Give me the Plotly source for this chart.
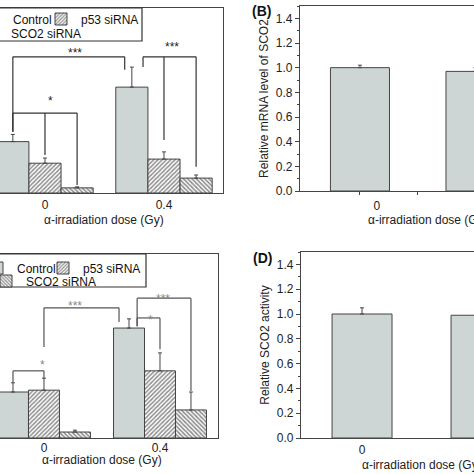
import plotly.graph_objects as go

W = H = 474
FONT = "Liberation Sans, Arial, sans-serif"

# ---------------- data ----------------
dose_labels = ["0", "0.4"]
series_names = ["Control", "p53 siRNA", "SCO2 siRNA"]

# Panel A
a_control = [1.00, 2.06]
a_p53 = [0.58, 0.66]
a_sco2 = [0.10, 0.29]
a_control_err = [0.14, 0.39]
a_p53_err = [0.10, 0.14]
a_sco2_err = [0.02, 0.06]

# Panel B
b_values = [1.00, 0.97]
b_err = [0.02, 0.03]

# Panel C
c_control = [1.00, 2.39]
c_p53 = [1.04, 1.46]
c_sco2 = [0.13, 0.61]
c_control_err = [0.20, 0.20]
c_p53_err = [0.26, 0.39]
c_sco2_err = [0.04, 0.39]

# Panel D
d_values = [1.00, 0.99]
d_err = [0.05, 0.04]

y_tick_vals = [0.0, 0.2, 0.4, 0.6, 0.8, 1.0, 1.2, 1.4]

# significance brackets: label, label position, bracket height, legs (group, series, dx, bottom)
a_brackets = [
    ("***", 0.252, 2.78, 2.65, [(0, 0, 0.0, 1.19), (1, 0, -0.06, 2.40)]),
    ("*", 0.05, 1.85, 1.556, [(0, 0, 0.0, 1.19), (0, 1, 0.0, 0.74), (0, 2, 0.0, 0.156)]),
    ("***", 1.067, 2.90, 2.65, [(1, 0, 0.094, 2.45), (1, 1, 0.0, 1.03), (1, 2, 0.0, 0.51)]),
]
c_brackets = [
    ("***", 0.267, 2.93, 2.83, [(0, 1, 0.0, 1.98), (1, 0, -0.086, 2.52)]),
    ("*", -0.017, 1.65, 1.46, [(0, 0, 0.0, 1.20), (0, 1, 0.0, 1.30)]),
    ("*", 0.914, 2.63, 2.61, [(1, 0, 0.07, 2.43), (1, 1, 0.0, 1.93)]),
    ("***", 1.026, 3.09, 3.04, [(1, 0, 0.07, 2.43), (1, 2, 0.0, 1.02)]),
]

# ---------------- styling ----------------
BAR_FILL = "#cdd6d5"
EDGE = "#444444"
AX = "#444444"


def pxx(x):
    return x / W


def pxy(y):
    return 1 - y / H


patterns = [None, dict(shape="/", fgcolor="#1e1e1e", bgcolor="white", size=3, solidity=0.5),
            dict(shape="\\", fgcolor="#1e1e1e", bgcolor="white", size=3, solidity=0.55)]

fig = go.Figure()


def grouped(xa, ya, series, errs, w, legends):
    for i, (name, vals, err) in enumerate(zip(series_names, series, errs)):
        marker = dict(color=BAR_FILL if i == 0 else "white", line=dict(color=EDGE, width=1))
        if patterns[i]:
            marker["pattern"] = patterns[i]
        fig.add_trace(go.Bar(
            x=[0, 1], y=vals, width=w, offset=(i - 1.5) * w, name=name,
            xaxis=xa, yaxis=ya, marker=marker, legend=legends[i], showlegend=True,
            error_y=dict(type="data", symmetric=False, array=err, arrayminus=[0, 0],
                         color=EDGE, thickness=1, width=2),
        ))


def brackets(xa, ya, specs, w, color, tcolor):
    for label, lx, ly, yb, legs in specs:
        xs = [g + (s - 1) * w + dx for g, s, dx, _ in legs]
        fig.add_shape(type="line", xref=xa, yref=ya, x0=min(xs), x1=max(xs), y0=yb, y1=yb,
                      line=dict(color=color, width=1.2))
        for x, (_, _, _, bottom) in zip(xs, legs):
            fig.add_shape(type="line", xref=xa, yref=ya, x0=x, x1=x, y0=yb, y1=bottom,
                          line=dict(color=color, width=1.2))
        fig.add_annotation(x=lx, y=ly, xref=xa, yref=ya, text=label, showarrow=False,
                           yanchor="middle", yshift=-3, font=dict(size=12, color=tcolor, family=FONT))


WA = 0.27
WC = 0.267
grouped("x", "y", [a_control, a_p53, a_sco2], [a_control_err, a_p53_err, a_sco2_err], WA,
        ["legend", "legend2", "legend3"])
grouped("x3", "y3", [c_control, c_p53, c_sco2], [c_control_err, c_p53_err, c_sco2_err], WC,
        ["legend4", "legend5", "legend6"])

# B and D
for xa, ya, vals, err, w in [("x2", "y2", b_values, b_err, 0.511), ("x4", "y4", d_values, d_err, 0.504)]:
    fig.add_trace(go.Bar(
        x=[0, 1], y=vals, width=w, xaxis=xa, yaxis=ya, showlegend=False,
        marker=dict(color=BAR_FILL, line=dict(color=EDGE, width=1)),
        error_y=dict(type="data", symmetric=False, array=err, arrayminus=[0, 0],
                     color=EDGE, thickness=1, width=2),
    ))

brackets("x", "y", a_brackets, WA, "#333333", "#222222")
brackets("x3", "y3", c_brackets, WC, "#555555", "#888888")

tickfont = dict(size=12, color="#222222", family=FONT)

left_x = dict(showline=True, mirror=True, linecolor=AX, linewidth=1.2, ticks="",
              tickvals=[0, 1], ticktext=dose_labels, tickfont=tickfont, showgrid=False,
              zeroline=False)
left_y = dict(showline=True, side="right", linecolor=AX, linewidth=1.2, ticks="",
              showticklabels=False, showgrid=False, zeroline=False)
right_y = dict(showline=True, linecolor=AX, linewidth=1.2, ticks="outside", ticklen=4,
               tickcolor=AX, tickvals=y_tick_vals, tickformat=".1f", tickfont=tickfont,
               minor=dict(dtick=0.1, ticks="outside", ticklen=2, tickcolor=AX),
               range=[0, 1.5], showgrid=False, zeroline=False,
               title=dict(font=dict(size=12, color="#222222", family=FONT), standoff=4))

fig.update_layout(
    width=W, height=H, margin=dict(l=0, r=0, t=0, b=0, autoexpand=False),
    paper_bgcolor="white", plot_bgcolor="white", barmode="overlay",
    font=dict(family=FONT, size=12, color="#222222"),
    xaxis=dict(left_x, domain=[0, pxx(223)], range=[-0.378, 1.496], anchor="y"),
    yaxis=dict(left_y, domain=[pxy(193), pxy(8)], range=[0, 3.6], anchor="x"),
    xaxis3=dict(left_x, domain=[0, pxx(218)], range=[-0.379, 1.5], anchor="y3",
                ticklabelstandoff=-2),
    yaxis3=dict(left_y, domain=[pxy(438), pxy(254)], range=[0, 4.0], anchor="x3"),
    xaxis2=dict(showline=True, mirror=True, linecolor=AX, linewidth=1.2, ticks="outside",
                ticklen=3, tickcolor=AX, tickvals=[0, 0.5], ticktext=["0", ""], ticklabelshift=17,
                tickfont=tickfont, domain=[pxx(300), 1], range=[-0.519, 0.987], anchor="y2",
                showgrid=False, zeroline=False),
    yaxis2=dict(right_y, domain=[pxy(191), pxy(6)], anchor="x2",
                title_text="Relative mRNA level of SCO2"),
    xaxis4=dict(showline=True, mirror=True, linecolor=AX, linewidth=1.2, ticks="",
                tickvals=[0, 1], ticktext=dose_labels, tickfont=tickfont,
                domain=[pxx(301), 1], range=[-0.513, 0.941], anchor="y4",
                showgrid=False, zeroline=False),
    yaxis4=dict(right_y, domain=[pxy(438), pxy(252)], anchor="x4",
                title_text="Relative SCO2 activity"),
)

# legends: one entry each, placed inside boxes
leg_common = dict(bgcolor="rgba(0,0,0,0)", borderwidth=0, xanchor="left", yanchor="middle",
                  font=dict(size=12, color="#111111", family=FONT), orientation="h")
legend_pos = {
    "legend": (-27, 19), "legend2": (41, 19), "legend3": (-29, 33),
    "legend4": (-23, 268), "legend5": (43, 268), "legend6": (-14, 281),
}
for key, (lx, ly) in legend_pos.items():
    fig.update_layout({key: dict(leg_common, x=pxx(lx), y=pxy(ly))})

# legend boxes
for (x1, y0, y1) in [(142, 8, 41), (146, 254, 287)]:
    fig.add_shape(type="rect", xref="paper", yref="paper", x0=pxx(-5), x1=pxx(x1),
                  y0=pxy(y1), y1=pxy(y0), line=dict(color="#333333", width=1.2),
                  fillcolor="white", layer="above")

# x-axis titles and panel labels
for (cx, cy) in [(104, 220), (428, 220), (102, 460), (422, 465)]:
    fig.add_annotation(x=pxx(cx), y=pxy(cy), xref="paper", yref="paper",
                       text="α-irradiation dose (Gy)", showarrow=False,
                       xanchor="center", yanchor="middle",
                       font=dict(size=12, color="#222222", family=FONT))
for (lbl, cx, cy) in [("(B)", 261, 11), ("(D)", 262, 258)]:
    fig.add_annotation(x=pxx(cx), y=pxy(cy), xref="paper", yref="paper",
                       text="<b>" + lbl + "</b>", showarrow=False,
                       xanchor="center", yanchor="middle",
                       font=dict(size=14, color="#111111", family=FONT))

fig.write_html("out.html")
